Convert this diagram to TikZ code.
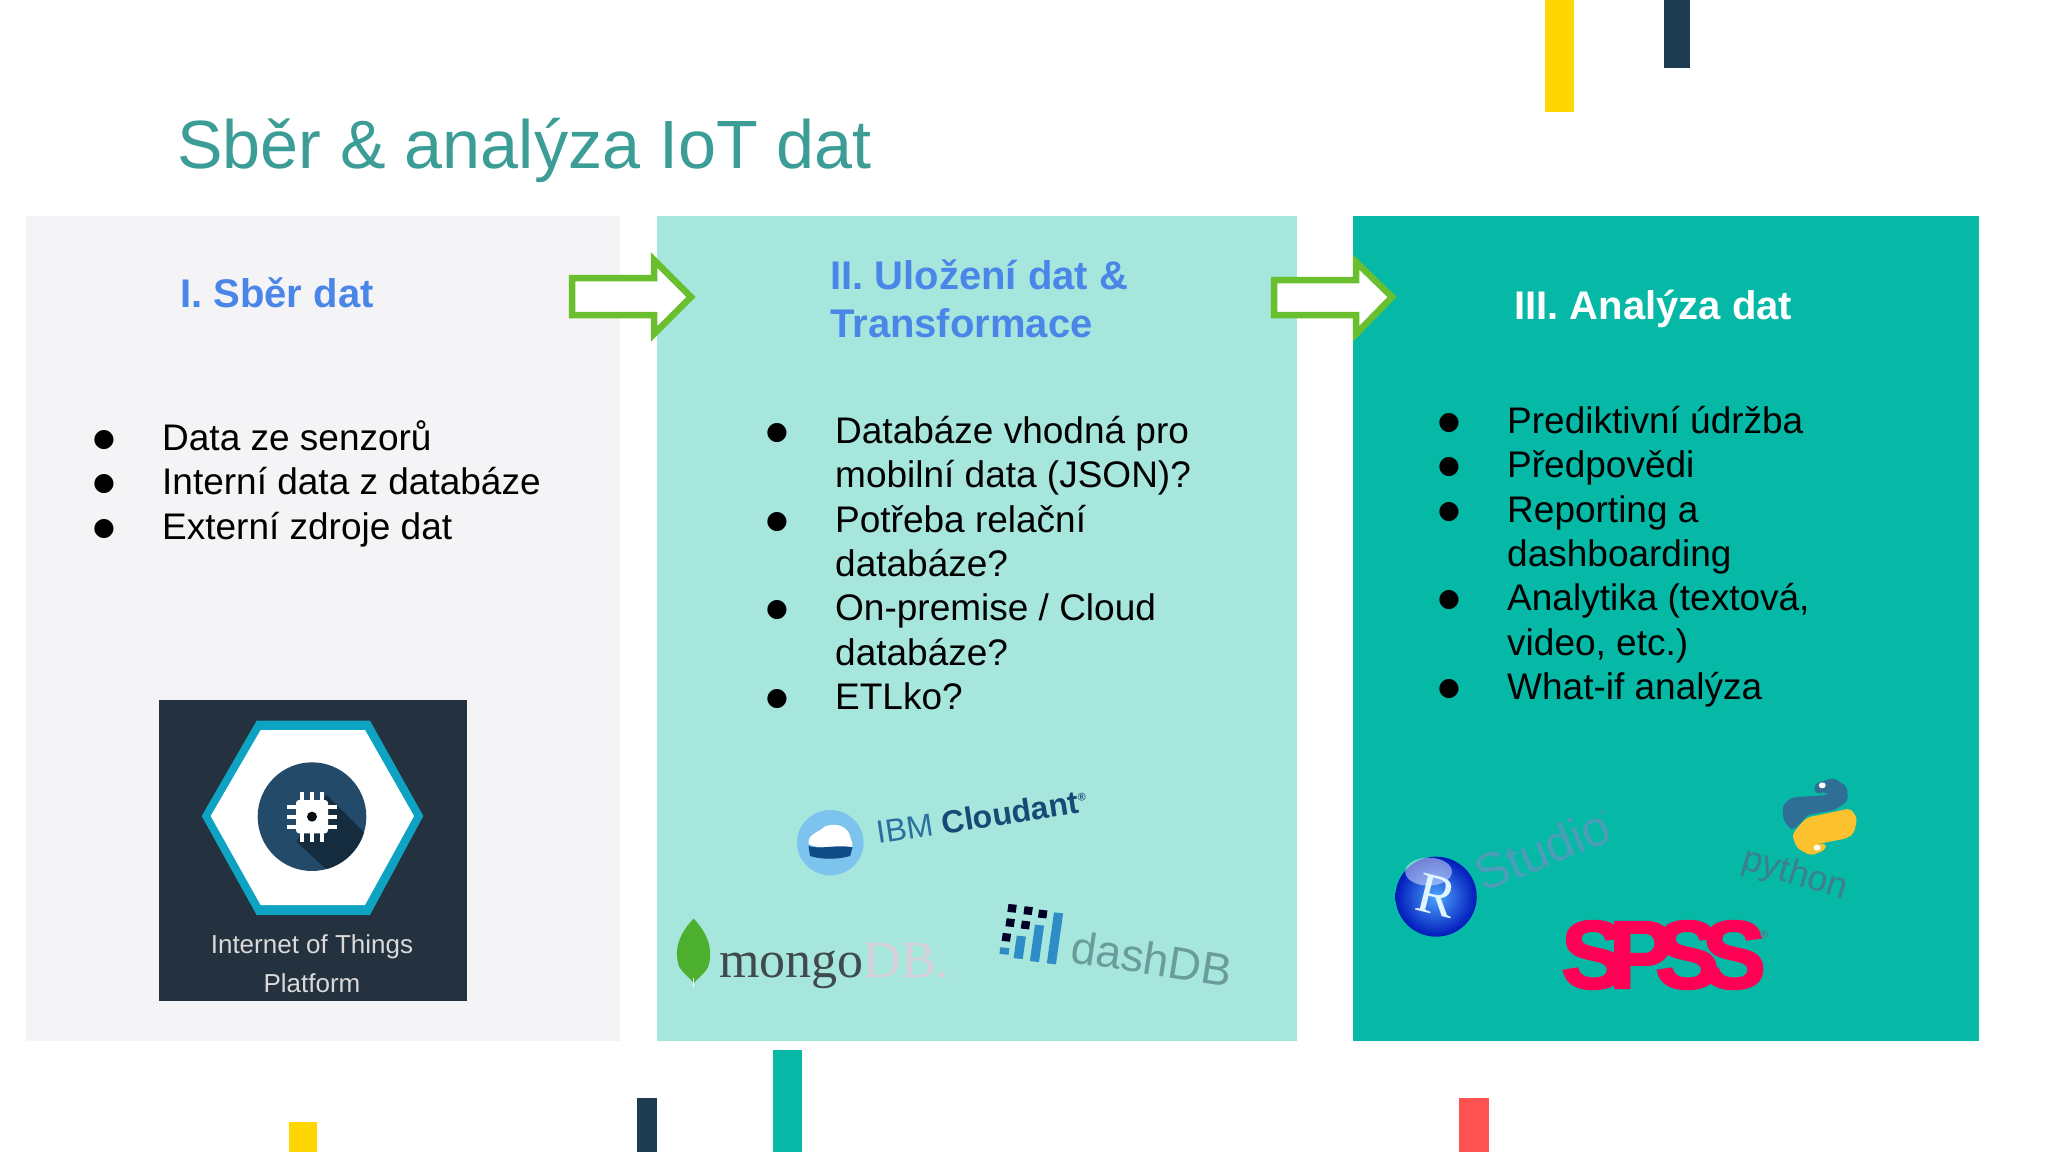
\documentclass[tikz,border=0pt]{standalone}
\usepackage{fontspec}
\setmainfont{Liberation Sans}
\newfontfamily\serifface{Liberation Serif}
\newfontfamily\bulletface{DejaVu Sans}
\newfontfamily\spssface[FakeBold=2.5]{Liberation Sans Bold}
\definecolor{titleteal}{HTML}{3B9D96}
\definecolor{headblue}{HTML}{4A86E8}
\definecolor{panelgrey}{HTML}{F4F3F5}
\definecolor{panelmint}{HTML}{A7E6DD}
\definecolor{panelteal}{HTML}{06B8A6}
\definecolor{arrowgreen}{HTML}{6ABF2E}
\definecolor{barnavy}{HTML}{1D3C52}
\definecolor{baryellow}{HTML}{FFD600}
\definecolor{barred}{HTML}{FF5252}
\definecolor{imgdark}{HTML}{24313E}
\definecolor{hexblue}{HTML}{0FA3C3}
\definecolor{chipcircle}{HTML}{234A68}
\definecolor{spssred}{HTML}{FF0055}
\definecolor{cloudlight}{HTML}{7CC4EE}
\definecolor{clouddark}{HTML}{0F4C85}
\definecolor{ibmtext}{HTML}{2B6F9E}
\definecolor{cloudanttext}{HTML}{174A75}
\definecolor{leafgreen}{HTML}{4CAF2E}
\definecolor{mongotext}{HTML}{3F4A4C}
\definecolor{dbtext}{HTML}{D8CFD8}
\definecolor{dashtext}{HTML}{6A9C9C}
\definecolor{dashbar}{HTML}{2E8CC6}
\definecolor{studiotext}{HTML}{4C9DB8}
\definecolor{pythontext}{HTML}{3C8090}
\definecolor{pyblue}{HTML}{2F6F96}
\definecolor{pyyellow}{HTML}{FBC12E}
\newcommand{\bul}{\makebox[67pt][l]{\hspace*{-2pt}\raisebox{4pt}{\bulletface\fontsize{25}{25}\selectfont ●}}}
\newcommand{\cont}{\hspace*{67pt}}
\tikzset{
  blockarrow/.style={draw=arrowgreen,fill=white,line width=6.5pt,miter limit=10},
  bodylist/.style={anchor=north west,inner sep=0pt,align=left,text=black,font=\fontsize{37}{44.4}\selectfont},
  headtext/.style={anchor=base west,inner sep=0pt,align=left,font=\fontsize{40}{48}\selectfont\bfseries},
  logotext/.style={anchor=base west,inner sep=0pt}
}
\begin{document}
\begin{tikzpicture}[x=1pt,y=-1pt]
\useasboundingbox (0,0) rectangle (2048,1152);
\fill[white] (0,0) rectangle (2048,1152);
% decorative bars
\fill[baryellow] (1545,0) rectangle (1574,112);
\fill[barnavy] (1664,0) rectangle (1690,68);
\fill[baryellow] (289,1122) rectangle (317,1152);
\fill[barnavy] (637,1098) rectangle (657,1152);
\fill[panelteal] (773,1050) rectangle (802,1152);
\fill[barred] (1459,1098) rectangle (1489,1152);
% title
\node[anchor=base west,inner sep=0pt,text=titleteal,font=\fontsize{68.3}{80}\selectfont] (title) at (177,168) {Sběr \& analýza IoT dat};
% panels
\fill[panelgrey] (26,216) rectangle (620,1041);
\fill[panelmint] (657,216) rectangle (1297,1041);
\fill[panelteal] (1353,216) rectangle (1979,1041);
% block arrows
\draw[blockarrow] (572,278) -- (654,278) -- (654,260) -- (691,297) -- (654,334) -- (654,315) -- (572,315) -- cycle;
\draw[blockarrow] (1274,280) -- (1356,280) -- (1356,262) -- (1392,297) -- (1356,334) -- (1356,315) -- (1274,315) -- cycle;
% headings
\node[headtext,text=headblue] (h1) at (180,307) {I. Sběr dat};
\node[headtext,text=headblue] (h2) at (830,337) {II. Uložení dat \&\\Transformace};
\node[headtext,text=white] (h3) at (1514,319) {III. Analýza dat};
% lists
\node[bodylist] (l1) at (95,419) {\strut\bul Data ze senzorů\\\bul Interní data z databáze\\\bul Externí zdroje dat};
\node[bodylist] (l2) at (768,412) {\strut\bul Databáze vhodná pro\\\cont mobilní data (JSON)?\\\bul Potřeba relační\\\cont databáze?\\\bul On-premise / Cloud\\\cont databáze?\\\bul ETLko?};
\node[bodylist] (l3) at (1440,402) {\strut\bul Prediktivní údržba\\\bul Předpovědi\\\bul Reporting a\\\cont dashboarding\\\bul Analytika (textová,\\\cont video, etc.)\\\bul What-if analýza};
% IoT image
\begin{scope}[shift={(140,680)},scale=1/3]
  \fill[imgdark] (57,60) rectangle (981,962);
  \fill[hexblue] (185,408) -- (350,122) -- (690,122) -- (850,408) -- (690,705) -- (350,705) -- cycle;
  \fill[white] (212,408) -- (362,150) -- (675,150) -- (822,408) -- (675,675) -- (362,675) -- cycle;
  \fill[chipcircle] (516,410) circle (163);
  \begin{scope}
    \clip (516,410) circle (163);
    \fill[black!40!chipcircle] (560,345) -- (720,505) -- (610,615) -- (470,485) -- cycle;
  \end{scope}
  \foreach \k in {-30,0,30} {
    \fill[white] (516+\k-6,335) rectangle (516+\k+6,485);
    \fill[white] (440,410+\k-6) rectangle (592,410+\k+6);
  }
  \fill[white,rounded corners=3pt] (468,360) rectangle (564,460);
  \fill[black!85!chipcircle] (516,410) circle (15);
\end{scope}
\node[anchor=base,inner sep=0pt,text=black!15!white,font=\fontsize{26}{26}\selectfont] (iot1) at (312,953) {Internet of Things};
\node[anchor=base,inner sep=0pt,text=black!15!white,font=\fontsize{26}{26}\selectfont] (iot2) at (312,992) {Platform};
% Cloudant logo
\begin{scope}[shift={(660,770)},xscale=0.3827,yscale=1/3]
  \fill[cloudlight] (445,218) ellipse (87 and 98);
  \fill[white] (388,222) .. controls (385,190) and (420,185) .. (430,170) .. controls (460,155) and (495,170) .. (498,205) .. controls (505,222) and (502,230) .. (502,232) .. controls (460,228) and (420,240) .. (388,222) -- cycle;
  \fill[clouddark] (388,228) .. controls (420,240) and (460,222) .. (503,232) -- (497,258) .. controls (460,270) and (420,268) .. (392,258) -- cycle;
\end{scope}
\node[logotext,rotate=8.7,font=\fontsize{32}{32}\selectfont,text=ibmtext] (cloudant) at (878,844) {IBM {\bfseries\color{cloudanttext}Cloudant\raisebox{12pt}{\fontsize{11}{11}\selectfont ®}}};
% mongoDB logo
\begin{scope}[shift={(660,770)},xscale=0.3827,yscale=1/3]
  \fill[leafgreen] (88,446) .. controls (50,490) and (35,540) .. (50,590) .. controls (60,610) and (80,625) .. (88,640) .. controls (98,625) and (118,610) .. (126,590) .. controls (140,540) and (125,490) .. (88,446) -- cycle;
  \draw[white,line width=1pt] (88,625) -- (88,650);
\end{scope}
\node[logotext,font=\serifface\fontsize{52}{52}\selectfont,text=mongotext] (mongo) at (719,977) {mongo{\color{dbtext}DB.}};
% dashDB logo
\begin{scope}[shift={(660,770)},xscale=0.3827,yscale=1/3]
  \foreach \x/\y in {920/415,962/422,1000/432,915/458,955/465,905/502} {
    \fill[black!85!blue,rotate around={-7:(\x,\y)}] (\x-11,\y-12) rectangle (\x+11,\y+12);
  }
  \fill[dashbar,rotate around={-7:(900,543)}] (888,533) rectangle (912,553);
  \fill[dashbar,rotate around={-7:(940,532)}] (928,498) rectangle (952,566);
  \fill[dashbar,rotate around={-7:(985,520)}] (973,465) rectangle (997,575);
  \fill[dashbar,rotate around={-7:(1032,505)}] (1020,428) rectangle (1044,582);
\end{scope}
\node[logotext,rotate=-8.9,font=\fontsize{45.5}{45.5}\selectfont,text=dashtext] (dash) at (1069,962) {dashDB};
% RStudio logo
\begin{scope}[shift={(1370,760)},xscale=0.3444,yscale=1/3]
  \shade[inner color=cyan!50!blue!70!white,outer color=blue!70!black!90!cyan] (192,410) ellipse (118 and 120);
  \fill[white,opacity=.45] (170,335) ellipse (68 and 42);
\end{scope}
\node[inner sep=0pt,rotate=-14,text=cyan!12!white,font=\serifface\fontsize{58}{58}\selectfont] (rletter) at (1437,896) {R};
\node[logotext,rotate=22,font=\fontsize{50}{50}\selectfont,text=studiotext] (studio) at (1483,893) {Studio};
\node[inner sep=0pt,text=studiotext,font=\fontsize{9}{9}\selectfont] (studioreg) at (1603,812) {®};
% python logo
\begin{scope}[shift={(1370,760)},xscale=0.3444,yscale=1/3]
  \fill[pyblue,rounded corners=4pt] (1290,72) -- (1345,53) -- (1385,80) -- (1388,122) -- (1350,150) -- (1270,165) -- (1250,190) -- (1225,212) -- (1200,180) -- (1198,135) -- (1225,112) -- (1330,105) -- (1328,95) -- (1292,102) -- cycle;
  \fill[pyyellow,rounded corners=4pt] (1350,155) -- (1395,145) -- (1415,175) -- (1405,220) -- (1385,235) -- (1285,255) -- (1325,250) -- (1322,270) -- (1280,287) -- (1240,265) -- (1225,225) -- (1250,192) -- (1270,172) -- cycle;
  \fill[white] (1313,76) ellipse (10 and 9);
  \fill[white] (1298,263) ellipse (10 and 9);
\end{scope}
\node[logotext,rotate=-17,font=\fontsize{36}{36}\selectfont,text=pythontext] (python) at (1740,868) {python};
% SPSS logo
\node[logotext,font=\spssface\fontsize{96}{96}\selectfont,text=spssred] (spss) at (1561,988) {S\kern-16.5pt P\kern-17.5pt S\kern-17.5pt S};
\node[inner sep=0pt,text=spssred!50!panelteal,font=\fontsize{11}{11}\selectfont] (spssreg) at (1764,935) {®};
\end{tikzpicture}
\end{document}
